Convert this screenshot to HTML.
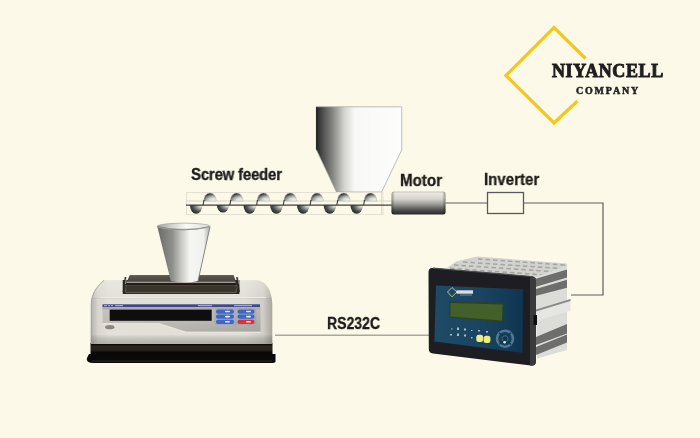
<!DOCTYPE html>
<html><head><meta charset="utf-8">
<style>
html,body{margin:0;padding:0;background:#fdf9e8;}
body{width:700px;height:438px;overflow:hidden;position:relative;font-family:"Liberation Sans",sans-serif;}
svg{position:absolute;left:0;top:0;}
.lbl{position:absolute;font-family:"Liberation Sans",sans-serif;font-weight:bold;color:#1a1a1a;white-space:nowrap;line-height:1;-webkit-text-stroke:0.3px #1a1a1a;will-change:transform;}
</style></head><body>
<svg width="700" height="438" viewBox="0 0 700 438">
<defs>
  <linearGradient id="hop" x1="0" y1="0" x2="1" y2="0">
    <stop offset="0" stop-color="#262626"/>
    <stop offset="0.08" stop-color="#505050"/>
    <stop offset="0.2" stop-color="#8a8a88"/>
    <stop offset="0.33" stop-color="#d4d4d0"/>
    <stop offset="0.45" stop-color="#f8f8f6"/>
    <stop offset="1" stop-color="#fdfdfb"/>
  </linearGradient>
  <linearGradient id="motor" x1="0" y1="0" x2="0" y2="1">
    <stop offset="0" stop-color="#c4c2bc"/>
    <stop offset="0.08" stop-color="#eae8e0"/>
    <stop offset="0.32" stop-color="#d6d4cc"/>
    <stop offset="0.55" stop-color="#9c9c98"/>
    <stop offset="0.8" stop-color="#505050"/>
    <stop offset="1" stop-color="#262626"/>
  </linearGradient>
  <linearGradient id="motorH" x1="0" y1="0" x2="1" y2="0">
    <stop offset="0" stop-color="#000" stop-opacity="0.35"/>
    <stop offset="0.06" stop-color="#000" stop-opacity="0"/>
    <stop offset="0.94" stop-color="#000" stop-opacity="0"/>
    <stop offset="1" stop-color="#000" stop-opacity="0.35"/>
  </linearGradient>
  <radialGradient id="bumpU" cx="0.8" cy="1" r="1.05">
    <stop offset="0" stop-color="#f6f6f2"/>
    <stop offset="0.35" stop-color="#dcdcd8"/>
    <stop offset="0.62" stop-color="#9e9e9a"/>
    <stop offset="0.85" stop-color="#444"/>
    <stop offset="1" stop-color="#262626"/>
  </radialGradient>
  <radialGradient id="bumpL" cx="0.85" cy="0.15" r="1">
    <stop offset="0" stop-color="#e8e8e4"/>
    <stop offset="0.3" stop-color="#9a9a96"/>
    <stop offset="0.6" stop-color="#505050"/>
    <stop offset="1" stop-color="#1e1e1e"/>
  </radialGradient>
  <linearGradient id="cup" x1="0" y1="0" x2="1" y2="0">
    <stop offset="0" stop-color="#6a6a68"/>
    <stop offset="0.28" stop-color="#8e8e8a"/>
    <stop offset="0.45" stop-color="#c6c6c2"/>
    <stop offset="0.62" stop-color="#f6f6f4"/>
    <stop offset="0.88" stop-color="#f0f0ec"/>
    <stop offset="1" stop-color="#a8a8a4"/>
  </linearGradient>
  <linearGradient id="cuprim" x1="0" y1="0" x2="1" y2="0">
    <stop offset="0" stop-color="#a4a4a0"/>
    <stop offset="0.55" stop-color="#fafaf6"/>
    <stop offset="1" stop-color="#dcdcd8"/>
  </linearGradient>
  <linearGradient id="bodyH" x1="0" y1="0" x2="1" y2="0">
    <stop offset="0" stop-color="#b4b2aa"/>
    <stop offset="0.04" stop-color="#d8d6ce"/>
    <stop offset="0.1" stop-color="#e2e0d8"/>
    <stop offset="0.85" stop-color="#e0ded6"/>
    <stop offset="0.95" stop-color="#cfcdc5"/>
    <stop offset="1" stop-color="#a8a69e"/>
  </linearGradient>
  <linearGradient id="bodyV" x1="0" y1="0" x2="0" y2="1">
    <stop offset="0" stop-color="#f0eee6" stop-opacity="0.5"/>
    <stop offset="0.27" stop-color="#e8e6de" stop-opacity="0.2"/>
    <stop offset="0.3" stop-color="#000" stop-opacity="0"/>
    <stop offset="0.85" stop-color="#000" stop-opacity="0"/>
    <stop offset="1" stop-color="#6a6250" stop-opacity="0.35"/>
  </linearGradient>
  <linearGradient id="base" x1="0" y1="0" x2="0" y2="1">
    <stop offset="0" stop-color="#0e0c0a"/>
    <stop offset="0.15" stop-color="#0e0c0a"/>
    <stop offset="0.25" stop-color="#2c251d"/>
    <stop offset="0.6" stop-color="#2a231b"/>
    <stop offset="0.75" stop-color="#0a0908"/>
    <stop offset="1" stop-color="#080706"/>
  </linearGradient>
  <linearGradient id="pan" x1="0" y1="0" x2="0" y2="1">
    <stop offset="0" stop-color="#6a645a"/>
    <stop offset="0.3" stop-color="#56504a"/>
    <stop offset="1" stop-color="#4a453e"/>
  </linearGradient>
  <linearGradient id="sink" x1="0" y1="0" x2="0" y2="1">
    <stop offset="0" stop-color="#c8c8c4"/>
    <stop offset="1" stop-color="#a8a8a4"/>
  </linearGradient>
  <pattern id="fins" x="0" y="0" width="700" height="9" patternUnits="userSpaceOnUse">
    <rect x="0" y="0" width="700" height="9" fill="#d6d6d2"/>
    <rect x="0" y="5" width="700" height="4" fill="#6a6a68"/>
  </pattern>
  <linearGradient id="panel" x1="0" y1="0" x2="1" y2="0">
    <stop offset="0" stop-color="#1e4a66"/>
    <stop offset="0.5" stop-color="#1a4562"/>
    <stop offset="1" stop-color="#0f3550"/>
  </linearGradient>
  <linearGradient id="fpanel" x1="0" y1="0" x2="1" y2="1">
    <stop offset="0" stop-color="#c6c4bc"/>
    <stop offset="0.6" stop-color="#bab8b2"/>
    <stop offset="1" stop-color="#a6a5a0"/>
  </linearGradient>
</defs>

<!-- logo diamond -->
<polyline points="585.5,58.5 554,27.5 506,75.5 554,123 577.5,101" fill="none" stroke="#f4c81a" stroke-width="3.3" stroke-linecap="butt"/>

<!-- hopper -->
<path d="M316.3,106.8 L401.7,106.8 L401.7,150 L381.6,192 L336.4,192 L316.3,149.5 Z" fill="url(#hop)" stroke="#a4a4a0" stroke-width="0.7"/>
<path d="M316.6,107 L316.6,149.5" stroke="#1e1e1e" stroke-width="1"/>

<!-- screw tube -->
<rect x="186.5" y="192.5" width="196.5" height="22" fill="none" stroke="#e4e1d4" stroke-width="1"/>
<line x1="381.5" y1="192" x2="381.5" y2="215" stroke="#e0ddd0" stroke-width="1"/>
<line x1="186" y1="201" x2="392" y2="201" stroke="#d8d5ca" stroke-width="1"/>
<g id="bumps"><path d="M189.9,205 A6.3,8.7 0 0 0 202.5,205 Z" fill="url(#bumpL)"/><path d="M203.7,201 A6.3,8 0 0 1 216.3,201 Z" fill="url(#bumpU)" stroke="#b4b4b0" stroke-width="0.5"/><path d="M204.0,200 L203.1,205" stroke="#333" stroke-width="1.1"/><path d="M216.7,205 A6.3,8.7 0 0 0 229.2,205 Z" fill="url(#bumpL)"/><path d="M230.4,201 A6.3,8 0 0 1 243.0,201 Z" fill="url(#bumpU)" stroke="#b4b4b0" stroke-width="0.5"/><path d="M230.8,200 L229.8,205" stroke="#333" stroke-width="1.1"/><path d="M243.4,205 A6.3,8.7 0 0 0 256.0,205 Z" fill="url(#bumpL)"/><path d="M257.2,201 A6.3,8 0 0 1 269.8,201 Z" fill="url(#bumpU)" stroke="#b4b4b0" stroke-width="0.5"/><path d="M257.5,200 L256.6,205" stroke="#333" stroke-width="1.1"/><path d="M270.1,205 A6.3,8.7 0 0 0 282.8,205 Z" fill="url(#bumpL)"/><path d="M283.9,201 A6.3,8 0 0 1 296.6,201 Z" fill="url(#bumpU)" stroke="#b4b4b0" stroke-width="0.5"/><path d="M284.2,200 L283.3,205" stroke="#333" stroke-width="1.1"/><path d="M296.9,205 A6.3,8.7 0 0 0 309.5,205 Z" fill="url(#bumpL)"/><path d="M310.7,201 A6.3,8 0 0 1 323.3,201 Z" fill="url(#bumpU)" stroke="#b4b4b0" stroke-width="0.5"/><path d="M311.0,200 L310.1,205" stroke="#333" stroke-width="1.1"/><path d="M323.6,205 A6.3,8.7 0 0 0 336.2,205 Z" fill="url(#bumpL)"/><path d="M337.4,201 A6.3,8 0 0 1 350.1,201 Z" fill="url(#bumpU)" stroke="#b4b4b0" stroke-width="0.5"/><path d="M337.8,200 L336.8,205" stroke="#333" stroke-width="1.1"/><path d="M350.4,205 A6.3,8.7 0 0 0 363.0,205 Z" fill="url(#bumpL)"/><path d="M364.2,201 A6.3,8 0 0 1 376.8,201 Z" fill="url(#bumpU)" stroke="#b4b4b0" stroke-width="0.5"/><path d="M364.5,200 L363.6,205" stroke="#333" stroke-width="1.1"/></g>
<line x1="186" y1="205.2" x2="392" y2="205.2" stroke="#3c3c3c" stroke-width="1.25"/>

<!-- motor -->
<rect x="391.5" y="191.5" width="54" height="23" rx="2.5" fill="url(#motor)"/>
<rect x="391.5" y="191.5" width="54" height="23" rx="2.5" fill="url(#motorH)"/>
<!-- motor to inverter line -->
<line x1="445.5" y1="203" x2="487.5" y2="203" stroke="#5e5e5c" stroke-width="1.2"/>
<rect x="487.5" y="192.5" width="36" height="21" fill="#fdf9e8" stroke="#5a5a58" stroke-width="1.3"/>
<polyline points="523.5,203 603,203 603,295 571,295" fill="none" stroke="#5e5e5c" stroke-width="1.2"/>

<!-- RS232C line -->
<line x1="275" y1="335.3" x2="430" y2="335.3" stroke="#a8a8a2" stroke-width="1.6"/>

<!-- balance -->
<!-- foot / shadow -->
<path d="M89,354 L275.5,354 L275.5,361.5 Q275,363 272,363 L93,363 Q86,363 87,358 Z" fill="#0a0908"/>
<rect x="92" y="360.6" width="180" height="1" fill="#2e2e26"/>
<!-- dark base -->
<path d="M90.5,343 L272.5,343 L272.5,355 L90.5,355 Z" fill="url(#base)"/>
<!-- body -->
<path d="M90.8,344 L91.2,303 C91.8,295 95,288 104,280.3 L256,280.3 C266,280.6 272.3,291 272.3,306 L272.3,344 Z" fill="url(#bodyH)"/>
<path d="M90.8,344 L91.2,303 C91.8,295 95,288 104,280.3 L256,280.3 C266,280.6 272.3,291 272.3,306 L272.3,344 Z" fill="url(#bodyV)"/>
<path d="M91.2,344 L91.2,303 C91.8,295 95,288 104,280.3" fill="none" stroke="#9a9892" stroke-width="0.8"/>
<path d="M100,297.5 L266,297.5" stroke="#eeece4" stroke-width="1"/>
<!-- blue stripe -->
<rect x="102.5" y="304.3" width="157.5" height="2.8" fill="#3e4890"/>
<g fill="#d8dcec" opacity="0.8"><rect x="104" y="305.2" width="3" height="1"/><rect x="108" y="305.2" width="2" height="1"/><rect x="111" y="305.2" width="2" height="1"/><rect x="115" y="305.2" width="8" height="1"/><rect x="198" y="305.2" width="14" height="1"/><rect x="234" y="305.2" width="18" height="1"/></g>
<!-- front panel -->
<path d="M102.5,307 L260.5,307 L260.5,331.7 L186,331.7 L158.6,323 L102.5,323 Z" fill="url(#fpanel)"/>
<path d="M158.6,323 L186,331.7 L260.5,331.7 L260.5,333 L185.5,333 L158,324.4 L102.5,324.4 L102.5,323 Z" fill="#e6e4dc"/>
<!-- display -->
<rect x="102.5" y="307.1" width="157.5" height="2.3" fill="#b2ae9c"/>
<rect x="109.7" y="309.6" width="102" height="11.2" fill="#0e0e0e"/>
<!-- keypad -->
<rect x="214.5" y="308.5" width="42" height="16.5" rx="2" fill="#8a98b8" opacity="0.35"/>
<g fill="#3e66c8">
  <rect x="216" y="309.5" width="18" height="4.2" rx="2"/>
  <rect x="237.5" y="309.5" width="17" height="4.2" rx="2"/>
  <rect x="216" y="314.6" width="18" height="4.2" rx="2"/>
  <rect x="237.5" y="314.6" width="17" height="4.2" rx="2"/>
  <rect x="216" y="319.7" width="18" height="4.2" rx="2"/>
</g>
<rect x="237.5" y="319.7" width="17" height="4.2" rx="2" fill="#d83434"/>
<g fill="#e8eefa"><rect x="225" y="310.7" width="5" height="1.6" rx="0.8"/><rect x="246" y="310.7" width="5" height="1.6" rx="0.8"/><rect x="225" y="315.8" width="5" height="1.6" rx="0.8"/><rect x="246" y="315.8" width="5" height="1.6" rx="0.8"/><rect x="225" y="320.9" width="5" height="1.6" rx="0.8"/><rect x="246" y="320.9" width="5" height="1.6" rx="0.8"/></g>
<ellipse cx="109.8" cy="327.2" rx="4.6" ry="2.1" fill="#8e857c"/>
<!-- pan recess -->
<path d="M122.7,280 L239.4,280 L239.4,294 L122.7,294 Z" fill="#2e2924"/>
<path d="M124.5,285.5 L237.5,285.5 L236,292.5 L126,292.5 Z" fill="#3a342c" stroke="#6e685e" stroke-width="0.8"/>
<path d="M125.5,277 L123.5,292" stroke="#2a2622" stroke-width="1.6"/><path d="M126.5,277 L125.5,284" stroke="#c8c4bc" stroke-width="0.7"/>
<path d="M237,277 L239,292" stroke="#2a2622" stroke-width="1.6"/><path d="M238,277 L239,284" stroke="#c8c4bc" stroke-width="0.7"/>
<!-- pan plate -->
<path d="M129.7,275 L233.6,275 L236,281.6 L127,281.6 Z" fill="url(#pan)"/>
<rect x="126.5" y="281.6" width="109" height="1.6" fill="#a09a8e"/>
<rect x="126.5" y="283.2" width="109" height="2.2" fill="#1e1a16"/>

<!-- cup -->
<path d="M157.3,226.8 L210,226.8 L198,281 Q184.5,284 170.8,281 Z" fill="url(#cup)"/>
<path d="M210,226.8 L198,281" stroke="#77777a" stroke-width="0.9" fill="none"/>
<ellipse cx="183.6" cy="226.4" rx="26.6" ry="3.3" fill="url(#cuprim)"/>
<path d="M157.3,226.6 Q183.6,233 210,226.6" fill="none" stroke="#6c6c6a" stroke-width="0.9"/>
<ellipse cx="183.6" cy="226.2" rx="26.4" ry="3" fill="none" stroke="#a2a29e" stroke-width="0.7"/>

<!-- controller -->
<g>
  <!-- heat sink top (grid) -->
  <path d="M447,268 L456,261.5 L477,256.5 L567,263.5 L567,267.5 L535.5,277.5 Z" fill="#d2d2ce"/>
  <g stroke="#a4a4a0" stroke-width="1.5" fill="none" stroke-dasharray="4.5 3">
    <path d="M478,259 L565,265"/>
    <path d="M463,262 L560,268.5"/>
    <path d="M454,265 L553,271.7"/>
    <path d="M450,268.3 L545,275"/>
  </g>
  <!-- side face -->
  <path d="M535.5,276.7 L567,266 L567,350 L537,358.5 Z" fill="#dcdcd8"/>
  <path d="M536,278.7 L567,269.6 L567,277.6 L536,286.7 Z" fill="#6e6e6c"/>
  <path d="M536,289 L567,279.8 L567,287.8 L536,295.8 Z" fill="#6e6e6c"/>
  <path d="M536,309.5 L570.5,299 L570.5,310.7 L536,321 Z" fill="#e6e6e2"/>
  <path d="M536,309.5 L570.5,299 L570.5,301 L536,311.5 Z" fill="#8a8a86"/>
  <path d="M536,336.9 L567,324 L567,333.5 L536,344.9 Z" fill="#6e6e6c"/>
  <path d="M536,347 L567,334.6 L567,342.6 L536,355 Z" fill="#6e6e6c"/>
  <!-- bezel -->
  <path d="M432.5,268 L531,276.3 Q536,276.8 536,281.5 L536,361 Q536,366 531,365.6 L433,353.6 Q428.8,353 428.8,349 L428.5,272.5 Q428.5,267.6 432.5,268 Z" fill="#1e1d21"/>
  <path d="M530,277 Q536,277 536,282 L536,361 Q536,366 531,365.5 L530,365.4 Z" fill="#3a393e"/>
  <path d="M433,268.2 L531,276.5 Q535.5,277 535.8,280" fill="none" stroke="#4a4a50" stroke-width="1.2"/>
  <rect x="533.5" y="315" width="3.5" height="10" fill="#0e0e10"/>
  <!-- blue panel -->
  <path d="M436,285.5 L523,289.3 L522.5,352.8 L434.4,341.6 Z" fill="url(#panel)"/>
  <!-- LCD -->
  <path d="M449.2,301 L503.9,302.8 L503,322 L449.2,317.4 Z" fill="#2e4220"/>
  <path d="M450.5,303 L502.5,304.6 L501.8,320.5 L450.5,316.6 Z" fill="#44602a"/>
  <!-- logo on panel -->
  <path d="M452,287.5 L457,292 L452,296.8 L447.5,292 Z" fill="none" stroke="#b8c478" stroke-width="1"/>
  <rect x="456.5" y="290.3" width="16.5" height="3.4" fill="#d8dee4"/>
  <rect x="460" y="294.5" width="12" height="1" fill="#6a8aa0"/>
  <!-- small keys -->
  <g fill="#a8bccc">
    <rect x="451" y="328.5" width="1.5" height="1"/><rect x="457" y="327.5" width="2" height="2.5"/><rect x="464" y="328.5" width="2" height="2"/>
    <rect x="471" y="330" width="1.5" height="1"/><rect x="478" y="330" width="2" height="1.5"/><rect x="486" y="331" width="2" height="1.5"/>
    <rect x="450" y="334" width="2" height="1.5"/><rect x="457" y="333.5" width="2" height="2.5"/><rect x="464" y="334.5" width="2" height="2"/>
    <rect x="471" y="337" width="1.5" height="1.5"/>
  </g>
  <!-- yellow keys -->
  <rect x="476.3" y="334.8" width="6.8" height="7.2" rx="2.5" fill="#eeee80"/>
  <rect x="483.6" y="335.7" width="6.8" height="7.2" rx="2.5" fill="#eeee80"/>
  <!-- nav pad -->
  <circle cx="505" cy="338.7" r="8" fill="#163e58" stroke="#4e7894" stroke-width="2.6"/>
  <path d="M499,332.7 L511,344.7 M511,332.7 L499,344.7" stroke="#123450" stroke-width="1.2"/><circle cx="505" cy="338.7" r="3" fill="none" stroke="#3e6884" stroke-width="1"/>
  <circle cx="504.6" cy="342.3" r="1.2" fill="#e8ecf0"/>
</g>
</svg>

<div class="lbl" style="left:190.5px;top:166.7px;font-size:15.6px;letter-spacing:-0.25px;transform:scaleX(0.965);transform-origin:0 0;">Screw feeder</div>
<div class="lbl" style="left:400px;top:173.1px;font-size:15.6px;transform:scaleX(0.97);transform-origin:0 0;">Motor</div>
<div class="lbl" style="left:483.5px;top:172.3px;font-size:15.6px;transform:scaleX(0.965);transform-origin:0 0;">Inverter</div>
<div class="lbl" style="left:327px;top:316.2px;font-size:15.6px;transform:scaleX(0.9);transform-origin:0 0;">RS232C</div>
<div class="lbl" style="left:552px;top:61.5px;font-family:'Liberation Serif',serif;font-size:18px;letter-spacing:0.6px;color:#1e1e1e;-webkit-text-stroke:0.9px #1e1e1e;">NIYANCELL</div>
<div class="lbl" style="left:575.5px;top:85.5px;font-family:'Liberation Serif',serif;font-size:10px;letter-spacing:1.8px;color:#222;-webkit-text-stroke:0.5px #222;">COMPANY</div>
</body></html>
